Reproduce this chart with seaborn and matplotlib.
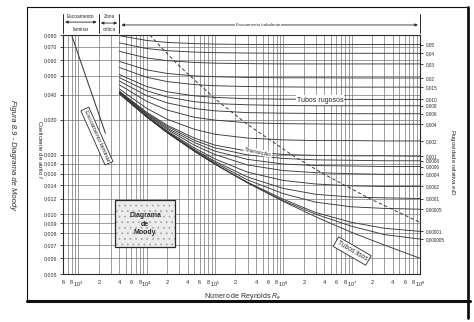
import numpy as np
import pandas as pd
import matplotlib
matplotlib.use("Agg")
import matplotlib.pyplot as plt
import seaborn as sns
from matplotlib.ticker import FixedLocator, FixedFormatter, LogLocator, NullLocator, NullFormatter
from matplotlib.patches import Rectangle
from matplotlib.lines import Line2D

# ---------------- data ----------------
re_points = [4e3, 1e4, 2e4, 5e4, 1e5, 3e5, 1e6, 3e6, 1e7, 3e7, 1e8]

f_0_05     = [0.0794, 0.0751, 0.0734, 0.0724, 0.0720, 0.0717, 0.0716, 0.0716, 0.0716, 0.0716, 0.0716]
f_0_04     = [0.0730, 0.0684, 0.0667, 0.0656, 0.0652, 0.0649, 0.0647, 0.0647, 0.0647, 0.0647, 0.0647]
f_0_03     = [0.0662, 0.0613, 0.0594, 0.0582, 0.0577, 0.0574, 0.0572, 0.0572, 0.0572, 0.0572, 0.0572]
f_0_02     = [0.0589, 0.0534, 0.0512, 0.0498, 0.0493, 0.0489, 0.0487, 0.0487, 0.0486, 0.0486, 0.0486]
f_0_015    = [0.0549, 0.0490, 0.0466, 0.0450, 0.0444, 0.0440, 0.0438, 0.0437, 0.0437, 0.0437, 0.0437]
f_0_01     = [0.0506, 0.0440, 0.0414, 0.0395, 0.0388, 0.0382, 0.0380, 0.0380, 0.0379, 0.0379, 0.0379]
f_0_008    = [0.0488, 0.0419, 0.0390, 0.0369, 0.0361, 0.0356, 0.0353, 0.0352, 0.0352, 0.0352, 0.0352]
f_0_006    = [0.0469, 0.0396, 0.0364, 0.0341, 0.0332, 0.0325, 0.0323, 0.0322, 0.0321, 0.0321, 0.0321]
f_0_004    = [0.0449, 0.0371, 0.0335, 0.0308, 0.0298, 0.0289, 0.0286, 0.0285, 0.0284, 0.0284, 0.0284]
f_0_002    = [0.0428, 0.0342, 0.0301, 0.0268, 0.0253, 0.0242, 0.0237, 0.0235, 0.0235, 0.0234, 0.0234]
f_0_001    = [0.0417, 0.0327, 0.0281, 0.0242, 0.0223, 0.0208, 0.0200, 0.0198, 0.0197, 0.0197, 0.0196]
f_0_0008   = [0.0415, 0.0323, 0.0277, 0.0236, 0.0216, 0.0199, 0.0191, 0.0188, 0.0187, 0.0186, 0.0186]
f_0_0006   = [0.0412, 0.0320, 0.0272, 0.0230, 0.0208, 0.0189, 0.0179, 0.0176, 0.0175, 0.0174, 0.0174]
f_0_0004   = [0.0410, 0.0317, 0.0268, 0.0223, 0.0200, 0.0177, 0.0166, 0.0162, 0.0160, 0.0159, 0.0159]
f_0_0002   = [0.0408, 0.0313, 0.0263, 0.0216, 0.0190, 0.0163, 0.0148, 0.0142, 0.0139, 0.0138, 0.0138]
f_0_0001   = [0.0407, 0.0312, 0.0261, 0.0212, 0.0185, 0.0154, 0.0135, 0.0126, 0.0122, 0.0121, 0.0120]
f_0_00005  = [0.0406, 0.0311, 0.0259, 0.0210, 0.0182, 0.0149, 0.0127, 0.0115, 0.0109, 0.0107, 0.0106]
f_0_00001  = [0.0405, 0.0310, 0.0258, 0.0208, 0.0179, 0.0145, 0.0119, 0.0102, 0.0091, 0.0085, 0.0082]
f_0_000005 = [0.0405, 0.0310, 0.0258, 0.0208, 0.0179, 0.0144, 0.0117, 0.0100, 0.0087, 0.0079, 0.0075]
f_smooth   = [0.0405, 0.0310, 0.0258, 0.0208, 0.0179, 0.0144, 0.0116, 0.0097, 0.0081, 0.0070, 0.0060]

rough_labels = ["0,05", "0,04", "0,03", "0,02", "0,015", "0,010", "0,008", "0,006",
                "0,004", "0,002", "0,001", "0,0008", "0,0006", "0,0004", "0,0002",
                "0,0001", "0,00005", "0,00001", "0,000005"]
rough_series = [f_0_05, f_0_04, f_0_03, f_0_02, f_0_015, f_0_01, f_0_008, f_0_006,
                f_0_004, f_0_002, f_0_001, f_0_0008, f_0_0006, f_0_0004, f_0_0002,
                f_0_0001, f_0_00005, f_0_00001, f_0_000005]

laminar_re = [600, 2500]
laminar_f = [0.1067, 0.0256]

bound_re = [1.12e4, 1.5e4, 2.8e4, 1.03e5, 2.97e5, 1.43e6, 3.97e6, 1.83e7, 1.0e8]
bound_f = [0.080, 0.0716, 0.0572, 0.0379, 0.0284, 0.0196, 0.0159, 0.0120, 0.0091]

regime_bounds = [6e2, 2e3, 4e3, 1e8]

xtick_vals = [6e2, 8e2, 1e3, 2e3, 4e3, 6e3, 8e3, 1e4, 2e4, 4e4, 6e4, 8e4, 1e5,
              2e5, 4e5, 6e5, 8e5, 1e6, 2e6, 4e6, 6e6, 8e6, 1e7, 2e7, 4e7, 6e7, 8e7, 1e8]
xtick_labels = ["6", "8", "$10^3$", "2", "4", "6", "8", "$10^4$", "2", "4", "6", "8", "$10^5$",
                "2", "4", "6", "8", "$10^6$", "2", "4", "6", "8", "$10^7$", "2", "4", "6", "8", "$10^8$"]
ytick_vals = [0.005, 0.006, 0.007, 0.008, 0.009, 0.010, 0.012, 0.014, 0.016, 0.018,
              0.020, 0.030, 0.040, 0.050, 0.060, 0.070, 0.080]
ytick_labels = ["0,005", "0,006", "0,007", "0,008", "0,009", "0,010", "0,012", "0,014",
                "0,016", "0,018", "0,020", "0,030", "0,040", "0,050", "0,060", "0,070", "0,080"]

# ---------------- style ----------------
sns.set_theme(style="white")
plt.rcParams["font.family"] = ["Liberation Sans", "DejaVu Sans"]
plt.rcParams["mathtext.fontset"] = "custom"
plt.rcParams["mathtext.rm"] = "Liberation Sans"
plt.rcParams["mathtext.it"] = "Liberation Sans:italic"
plt.rcParams["hatch.linewidth"] = 0.6

INK = "#2a2a2a"
CURVE = "#3a3a3a"
GRID = "#747474"

fig = plt.figure(figsize=(4.74, 3.22), dpi=100)
fig.patch.set_facecolor("white")
ax = fig.add_axes([63 / 474, 1 - 274 / 322, 357 / 474, 239 / 322])
ax.set_xscale("log")
ax.set_yscale("log")

rows = []
for lab, vals in zip(rough_labels, rough_series):
    for r, f in zip(re_points, vals):
        rows.append((lab, r, f))
for r, f in zip(re_points, f_smooth):
    rows.append(("lisos", r, f))
df = pd.DataFrame(rows, columns=["curve", "Re", "f"])

sns.lineplot(data=df, x="Re", y="f", units="curve", estimator=None, color=CURVE,
             lw=0.65, ax=ax, legend=False, sort=False, zorder=3)
sns.lineplot(x=laminar_re, y=laminar_f, color=CURVE, lw=0.75, ax=ax, zorder=3)
sns.lineplot(x=bound_re, y=bound_f, color="#3a3a3a", lw=0.7, ax=ax, zorder=3,
             linestyle=(0, (3.5, 2.5)))

ax.set_xlim(6e2, 1e8)
ax.set_ylim(0.005, 0.08)
ax.set_xlabel("")
ax.set_ylabel("")

ax.xaxis.set_major_locator(FixedLocator(xtick_vals))
ax.xaxis.set_major_formatter(FixedFormatter(xtick_labels))
ax.xaxis.set_minor_locator(LogLocator(base=10, subs=np.arange(1, 10), numticks=50))
ax.xaxis.set_minor_formatter(NullFormatter())
ax.yaxis.set_major_locator(FixedLocator(ytick_vals))
ax.yaxis.set_major_formatter(FixedFormatter(ytick_labels))
ax.yaxis.set_minor_locator(NullLocator())

ax.grid(True, which="both", axis="x", color=GRID, lw=0.5, zorder=1)
ax.grid(True, which="major", axis="y", color=GRID, lw=0.5, zorder=1)
ax.tick_params(axis="x", which="both", length=0, pad=4, labelsize=4, colors=INK)
ax.tick_params(axis="y", which="major", left=True, length=2.5, width=0.6, pad=1.5,
               labelsize=3.8, colors=INK)
for s in ax.spines.values():
    s.set_color(INK)
    s.set_linewidth(0.8)

ax2 = ax.twinx()
ax2.set_yscale("log")
ax2.set_ylim(ax.get_ylim())
ax2.yaxis.set_major_locator(FixedLocator([v[-1] for v in rough_series]))
ax2.yaxis.set_major_formatter(FixedFormatter(rough_labels))
ax2.yaxis.set_minor_locator(NullLocator())
ax2.tick_params(axis="y", which="major", right=True, length=2.5, width=0.6, pad=1.5,
                labelsize=3.4, colors=INK)
for s in ax2.spines.values():
    s.set_visible(False)

# ---------------- header (flow regimes) ----------------
xt = ax.get_xaxis_transform()
for b in regime_bounds:
    ax.plot([b, b], [1.008, 1.088], transform=xt, color=INK, lw=0.7, clip_on=False)
arrow_kw = dict(arrowstyle="<|-|>", color=INK, lw=0.6, mutation_scale=4, shrinkA=1.5, shrinkB=1.5)
ax.annotate("", xy=(regime_bounds[1], 1.054), xytext=(regime_bounds[0], 1.054),
            xycoords=xt, textcoords=xt, arrowprops=arrow_kw)
ax.annotate("", xy=(regime_bounds[2], 1.050), xytext=(regime_bounds[1], 1.050),
            xycoords=xt, textcoords=xt, arrowprops=arrow_kw)
ax.annotate("", xy=(regime_bounds[3], 1.042), xytext=(regime_bounds[2], 1.042),
            xycoords=xt, textcoords=xt, arrowprops=arrow_kw)
hdr = dict(transform=xt, ha="center", va="center", color=INK, fontsize=3.5)
ax.text(1095, 1.077, "Escoamento", **hdr)
ax.text(1095, 1.025, "laminar", **hdr)
ax.text(2828, 1.077, "Zona", **hdr)
ax.text(2828, 1.025, "crítica", **hdr)
ax.text(4.3e5, 1.042, "Escoamento turbulento", transform=xt, ha="center", va="center",
        color=INK, fontsize=3.2,
        bbox=dict(boxstyle="square,pad=0.2", fc="white", ec="none"))

# ---------------- in-plot labels ----------------
ax.text(0.72, 0.728, "Tubos rugosos", transform=ax.transAxes, ha="center", va="center",
        fontsize=5, color=INK, zorder=5,
        bbox=dict(boxstyle="square,pad=0.15", fc="white", ec="none"))
ax.text(0.546, 0.51, "Transição", transform=ax.transAxes, ha="center", va="center",
        fontsize=4.6, color=INK, rotation=-12, rotation_mode="anchor", zorder=5,
        bbox=dict(boxstyle="square,pad=0.1", fc="white", ec="none"))
ax.text(0.81, 0.096, "Tubos lisos", transform=ax.transAxes, ha="center", va="center",
        fontsize=4.8, color=INK, rotation=-30, rotation_mode="anchor", zorder=5,
        bbox=dict(boxstyle="square,pad=0.3", fc="white", ec=INK, lw=0.6))
ax.text(0.095, 0.577, "Escoamento laminar", transform=ax.transAxes, ha="center", va="center",
        fontsize=4.4, color=INK, rotation=-66, rotation_mode="anchor", zorder=5,
        bbox=dict(boxstyle="square,pad=0.3", fc="white", ec=INK, lw=0.6))

ax.add_patch(Rectangle((0.146, 0.113), 0.168, 0.197, transform=ax.transAxes,
                       facecolor="#ececec", edgecolor="#a8a8a8", lw=0, hatch="...",
                       zorder=6))
ax.add_patch(Rectangle((0.146, 0.113), 0.168, 0.197, transform=ax.transAxes,
                       facecolor="none", edgecolor=INK, lw=0.9, zorder=7))
ax.text(0.23, 0.209, "Diagrama\nde\nMoody", transform=ax.transAxes, ha="center",
        va="center", fontsize=5, fontweight="bold", color=INK, linespacing=1.25, zorder=8)

# ---------------- outer texts ----------------
fig.text(243 / 474, 1 - 297 / 322, "Número de Reynolds $R_e$", ha="center", va="center",
         fontsize=5, color=INK)
fig.text(40 / 474, 1 - 150 / 322, "Coeficiente de atrito $f$", ha="center", va="center",
         rotation=-90, fontsize=4.3, color=INK)
fig.text(12 / 474, 1 - 155 / 322, "Figura 8.9 - Diagrama de Moody", ha="center", va="center",
         rotation=-90, fontsize=5.5, style="italic", color=INK)
fig.text(453 / 474, 1 - 163 / 322, "Rugosidade relativa $e/D$", ha="center", va="center",
         rotation=-90, fontsize=4.4, color=INK)

# ---------------- page frame ----------------
def fl(x0, y0, x1, y1, lw):
    fig.add_artist(Line2D([x0 / 474, x1 / 474], [1 - y0 / 322, 1 - y1 / 322],
                          transform=fig.transFigure, color="#111111", lw=lw))

fl(27, 7, 27, 301, 0.8)
fl(27, 7, 467, 7, 0.8)
fl(27, 301, 470, 301, 2.2)
fl(468, 7, 468, 318, 2.0)

fig.savefig("out.png", dpi=100, facecolor="white")
